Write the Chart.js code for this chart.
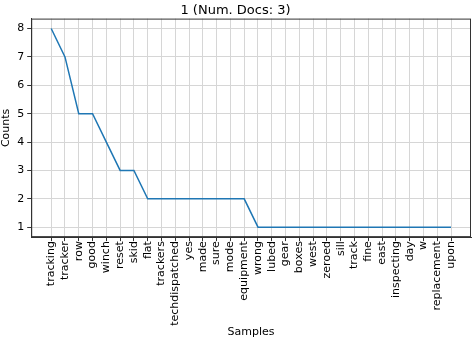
<!DOCTYPE html>
<html>
<head>
<meta charset="utf-8">
<script src="https://cdn.jsdelivr.net/npm/chart.js@4.4.0/dist/chart.umd.min.js"></script>
<style>
  html, body { margin: 0; padding: 0; background: #fff; }
  #wrap { width: 474px; height: 339px; }
</style>
</head>
<body>
<div id="wrap"><canvas id="chart"></canvas></div>
<script>
// Word frequencies
const samples = ['tracking', 'tracker', 'row', 'good', 'winch', 'reset', 'skid', 'flat', 'trackers',
  'techdispatched', 'yes', 'made', 'sure', 'mode', 'equipment', 'wrong', 'lubed', 'gear', 'boxes',
  'west', 'zeroed', 'sill', 'track', 'fine', 'east', 'inspecting', 'day', 'w', 'replacement', 'upon'];
const counts = [8, 7, 5, 5, 4, 3, 3, 2, 2, 2, 2, 2, 2, 2, 2,
  1, 1, 1, 1, 1, 1, 1, 1, 1, 1, 1, 1, 1, 1, 1];
const yTicks = [1, 2, 3, 4, 5, 6, 7, 8];

Chart.defaults.font.family = "'DejaVu Sans', sans-serif";
Chart.defaults.color = '#000';

// matplotlib style frame round the plot area
const frame = {
  id: 'frame',
  afterDraw(chart) {
    const { ctx, chartArea: a } = chart;
    ctx.save();
    ctx.strokeStyle = '#333';
    ctx.lineWidth = 1;
    ctx.strokeRect(a.left + 0.5, a.top + 0.5, a.right - a.left - 1, a.bottom - a.top - 1);
    ctx.restore();
  }
};

const n = samples.length;
const pad = (n - 1) * 0.05;

new Chart(document.getElementById('chart'), {
  type: 'line',
  data: {
    datasets: [{
      data: counts.map((c, i) => ({ x: i, y: c })),
      borderColor: '#1f77b4',
      borderWidth: 1.5,
      pointRadius: 0,
      tension: 0
    }]
  },
  options: {
    responsive: true,
    maintainAspectRatio: false,
    animation: false,
    layout: { padding: { left: 0, right: 3, top: 3, bottom: 0 } },
    plugins: {
      legend: { display: false },
      tooltip: { enabled: false },
      title: {
        display: true,
        text: '1 (Num. Docs: 3)',
        font: { size: 13, weight: 'normal' },
        padding: { top: 0, bottom: 0 }
      }
    },
    scales: {
      x: {
        type: 'linear',
        min: -pad,
        max: n - 1 + pad,
        afterBuildTicks: s => { s.ticks = samples.map((_, i) => ({ value: i })); },
        ticks: {
          autoSkip: false,
          maxRotation: 90,
          minRotation: 90,
          font: { size: 11 },
          padding: 0,
          callback: v => samples[v]
        },
        grid: { color: '#d6d6d6', tickLength: 4, tickColor: '#333' },
        border: { color: '#333' },
        title: { display: true, text: 'Samples', font: { size: 11 }, padding: { top: 0, bottom: 0 } }
      },
      y: {
        min: 1 - 7 * 0.05,
        max: 8 + 7 * 0.05,
        afterBuildTicks: s => { s.ticks = yTicks.map(v => ({ value: v })); },
        ticks: { font: { size: 11 }, padding: 3 },
        grid: { color: '#d6d6d6', tickLength: 4, tickColor: '#333' },
        border: { color: '#333' },
        title: { display: true, text: 'Counts', font: { size: 11 }, padding: { top: 0, bottom: 1 } }
      }
    }
  },
  plugins: [frame]
});
</script>
</body>
</html>
